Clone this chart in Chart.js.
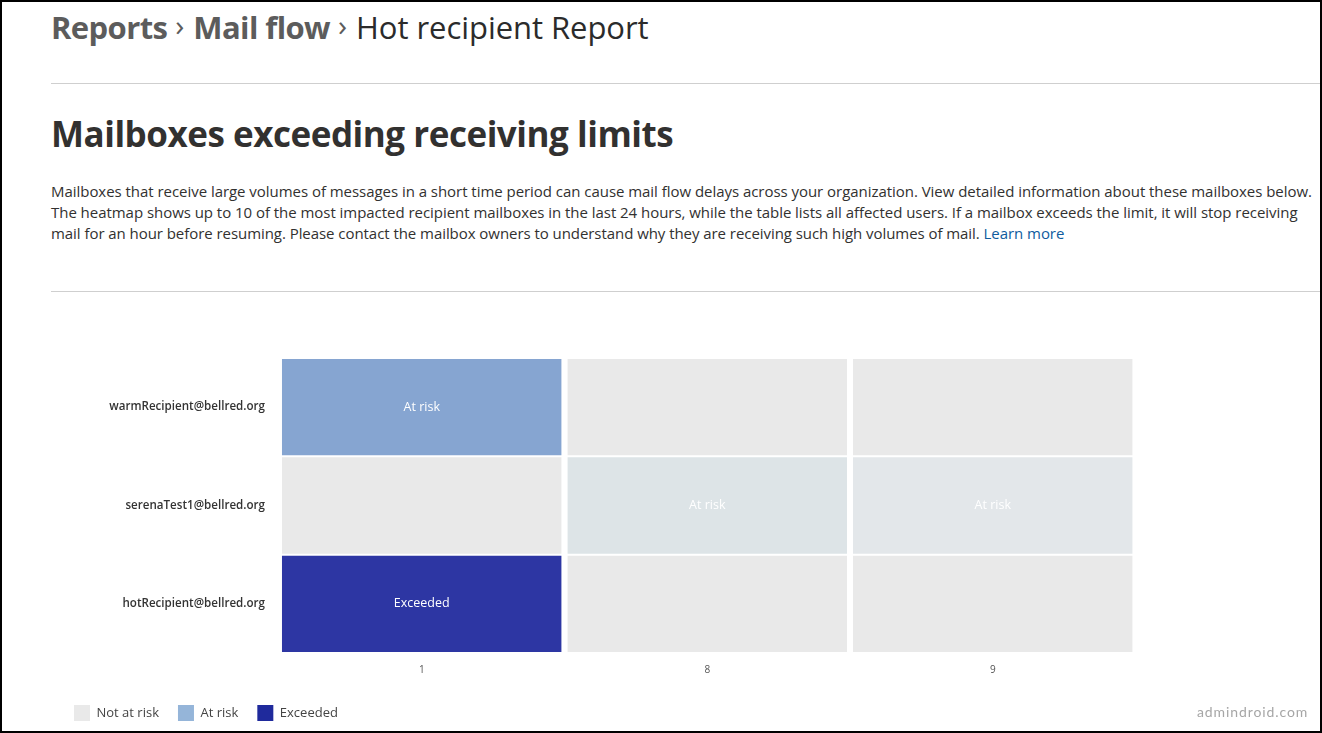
<!DOCTYPE html>
<html>
<head>
<meta charset="utf-8">
<title>Hot recipient Report</title>
<script src="https://cdn.jsdelivr.net/npm/chart.js@4/dist/chart.umd.min.js"></script>
<style>
html, body { margin: 0; padding: 0; background: #fff; overflow: hidden; }
#page { position: relative; width: 1322px; height: 733px; overflow: hidden; font-family: "Open Sans", "Noto Sans", sans-serif; color: #323130; }
#frame { position: absolute; left: 0; top: 0; width: 1318px; height: 729px; border: 2px solid #000; z-index: 5; pointer-events: none; }
.txt { position: absolute; white-space: nowrap; }
.rule { position: absolute; left: 51px; right: 2px; height: 1px; background: #cfcfcf; }
#crumbs { left: 51px; top: 5px; font-size: 31px; line-height: 44px; letter-spacing: -0.05px; color: #2b2b2b; }
#crumbs b { color: #5c5c5c; font-weight: 700; letter-spacing: -0.6px; }
#crumbs i { font-style: normal; color: #5c5c5c; font-size: 30px; margin: 0 9px 0 8px; position: relative; top: -3px; }
#heading { left: 51px; top: 109px; font-size: 35px; line-height: 50px; font-weight: 700; letter-spacing: -0.47px; }
.para { left: 51px; font-size: 15px; line-height: 21px; letter-spacing: -0.04px; }
.para a { color: #0f5c9e; text-decoration: none; }
#mark { left: 1197px; top: 703px; font-family: Lato, sans-serif; font-size: 14px; line-height: 18px; color: #a6a6a6; letter-spacing: 0.9px; }
#chartBox { position: absolute; left: 0; top: 340px; width: 1322px; height: 393px; }
</style>
</head>
<body>
<div id="page">
    <div id="frame"></div>
    <div class="txt" id="crumbs"><b>Reports</b><i>›</i><b>Mail flow</b><i>›</i>Hot recipient Report</div>
    <div class="rule" style="top:83px"></div>
    <div class="txt" id="heading">Mailboxes exceeding receiving limits</div>
    <div class="txt para" style="top:181px">Mailboxes that receive large volumes of messages in a short time period can cause mail flow delays across your organization. View detailed information about these mailboxes below.</div>
    <div class="txt para" style="top:202px">The heatmap shows up to 10 of the most impacted recipient mailboxes in the last 24 hours, while the table lists all affected users. If a mailbox exceeds the limit, it will stop receiving</div>
    <div class="txt para" style="top:223px;letter-spacing:-0.055px">mail for an hour before resuming. Please contact the mailbox owners to understand why they are receiving such high volumes of mail. <a href="#">Learn more</a></div>
    <div class="rule" style="top:291px"></div>
    <div id="chartBox"><canvas id="chart" width="1322" height="393"></canvas></div>
    <div class="txt" id="mark">admindroid.com</div>
</div>
<script>
// data, bottom row first because the bars stack upwards
var hours = ["1", "8", "9"];
var recipients = ["hotRecipient@bellred.org", "serenaTest1@bellred.org", "warmRecipient@bellred.org"];
var hotStatus = ["Exceeded", "Not at risk", "Not at risk"];
var serenaStatus = ["Not at risk", "At risk", "At risk"];
var warmStatus = ["At risk", "Not at risk", "Not at risk"];
var legendNames = ["Not at risk", "At risk", "Exceeded"];

var hotColors = ["#2d36a3", "#e9e9e9", "#e9e9e9"];
var serenaColors = ["#e9e9e9", "#dde4e7", "#e3e7ea"];
var warmColors = ["#86a5d1", "#e9e9e9", "#e9e9e9"];
var legendColors = ["#e9e9e9", "#95b5d9", "#1f2a9c"];
var fontName = '"Open Sans", "Noto Sans", sans-serif';

function makeRow(label, statuses, colors) {
    return {
        label: label,
        statuses: statuses,
        data: statuses.map(function() { return 1; }),
        backgroundColor: colors,
        borderColor: "#ffffff",
        borderWidth: { top: 1, bottom: 1, left: 0, right: 0 },
        borderSkipped: false,
        barPercentage: 0.98,
        categoryPercentage: 1
    };
}

// writes the status in the middle of every coloured cell
var cellText = {
    id: "cellText",
    afterDatasetsDraw: function(chart) {
        var ctx = chart.ctx;
        ctx.save();
        ctx.font = "12.5px " + fontName;
        ctx.fillStyle = "#ffffff";
        ctx.textAlign = "center";
        ctx.textBaseline = "middle";
        chart.data.datasets.forEach(function(ds, i) {
            chart.getDatasetMeta(i).data.forEach(function(bar, j) {
                if (ds.statuses[j] == "Not at risk") return;
                var c = bar.getCenterPoint();
                ctx.fillText(ds.statuses[j], c.x, c.y);
            });
        });
        ctx.restore();
    }
};

new Chart(document.getElementById("chart"), {
    type: "bar",
    data: {
        labels: hours,
        datasets: [
            makeRow(recipients[0], hotStatus, hotColors),
            makeRow(recipients[1], serenaStatus, serenaColors),
            makeRow(recipients[2], warmStatus, warmColors)
        ]
    },
    plugins: [cellText],
    options: {
        responsive: false,
        animation: false,
        devicePixelRatio: 1,
        layout: { padding: { left: 55, right: 186.5, top: 18, bottom: 2 } },
        plugins: {
            title: { display: false },
            tooltip: { enabled: false },
            legend: {
                position: "bottom",
                align: "start",
                onClick: null,
                labels: {
                    boxWidth: 16,
                    boxHeight: 16,
                    padding: 19,
                    font: { family: fontName, size: 13 },
                    generateLabels: function() {
                        return legendNames.map(function(name, i) {
                            return { text: name, fontColor: "#444444", fillStyle: legendColors[i], strokeStyle: legendColors[i], lineWidth: 0, index: i };
                        });
                    }
                }
            }
        },
        scales: {
            x: {
                stacked: true,
                grid: { display: false },
                border: { display: false },
                ticks: { color: "#555555", font: { family: fontName, size: 10 }, padding: 3 },
                afterFit: function(axis) { axis.height += 7; }
            },
            y: {
                stacked: true,
                min: 0,
                max: recipients.length,
                grid: { display: false },
                border: { display: false },
                afterBuildTicks: function(axis) {
                    axis.ticks = recipients.map(function(r, i) { return { value: i + 0.5 }; });
                },
                afterFit: function(axis) { axis.width = 224; },
                ticks: {
                    color: "#333333",
                    padding: 6,
                    autoSkip: false,
                    font: { family: fontName, size: 11.6, weight: "600" },
                    callback: function(value) { return recipients[Math.floor(value)]; }
                }
            }
        }
    }
});
</script>
</body>
</html>
